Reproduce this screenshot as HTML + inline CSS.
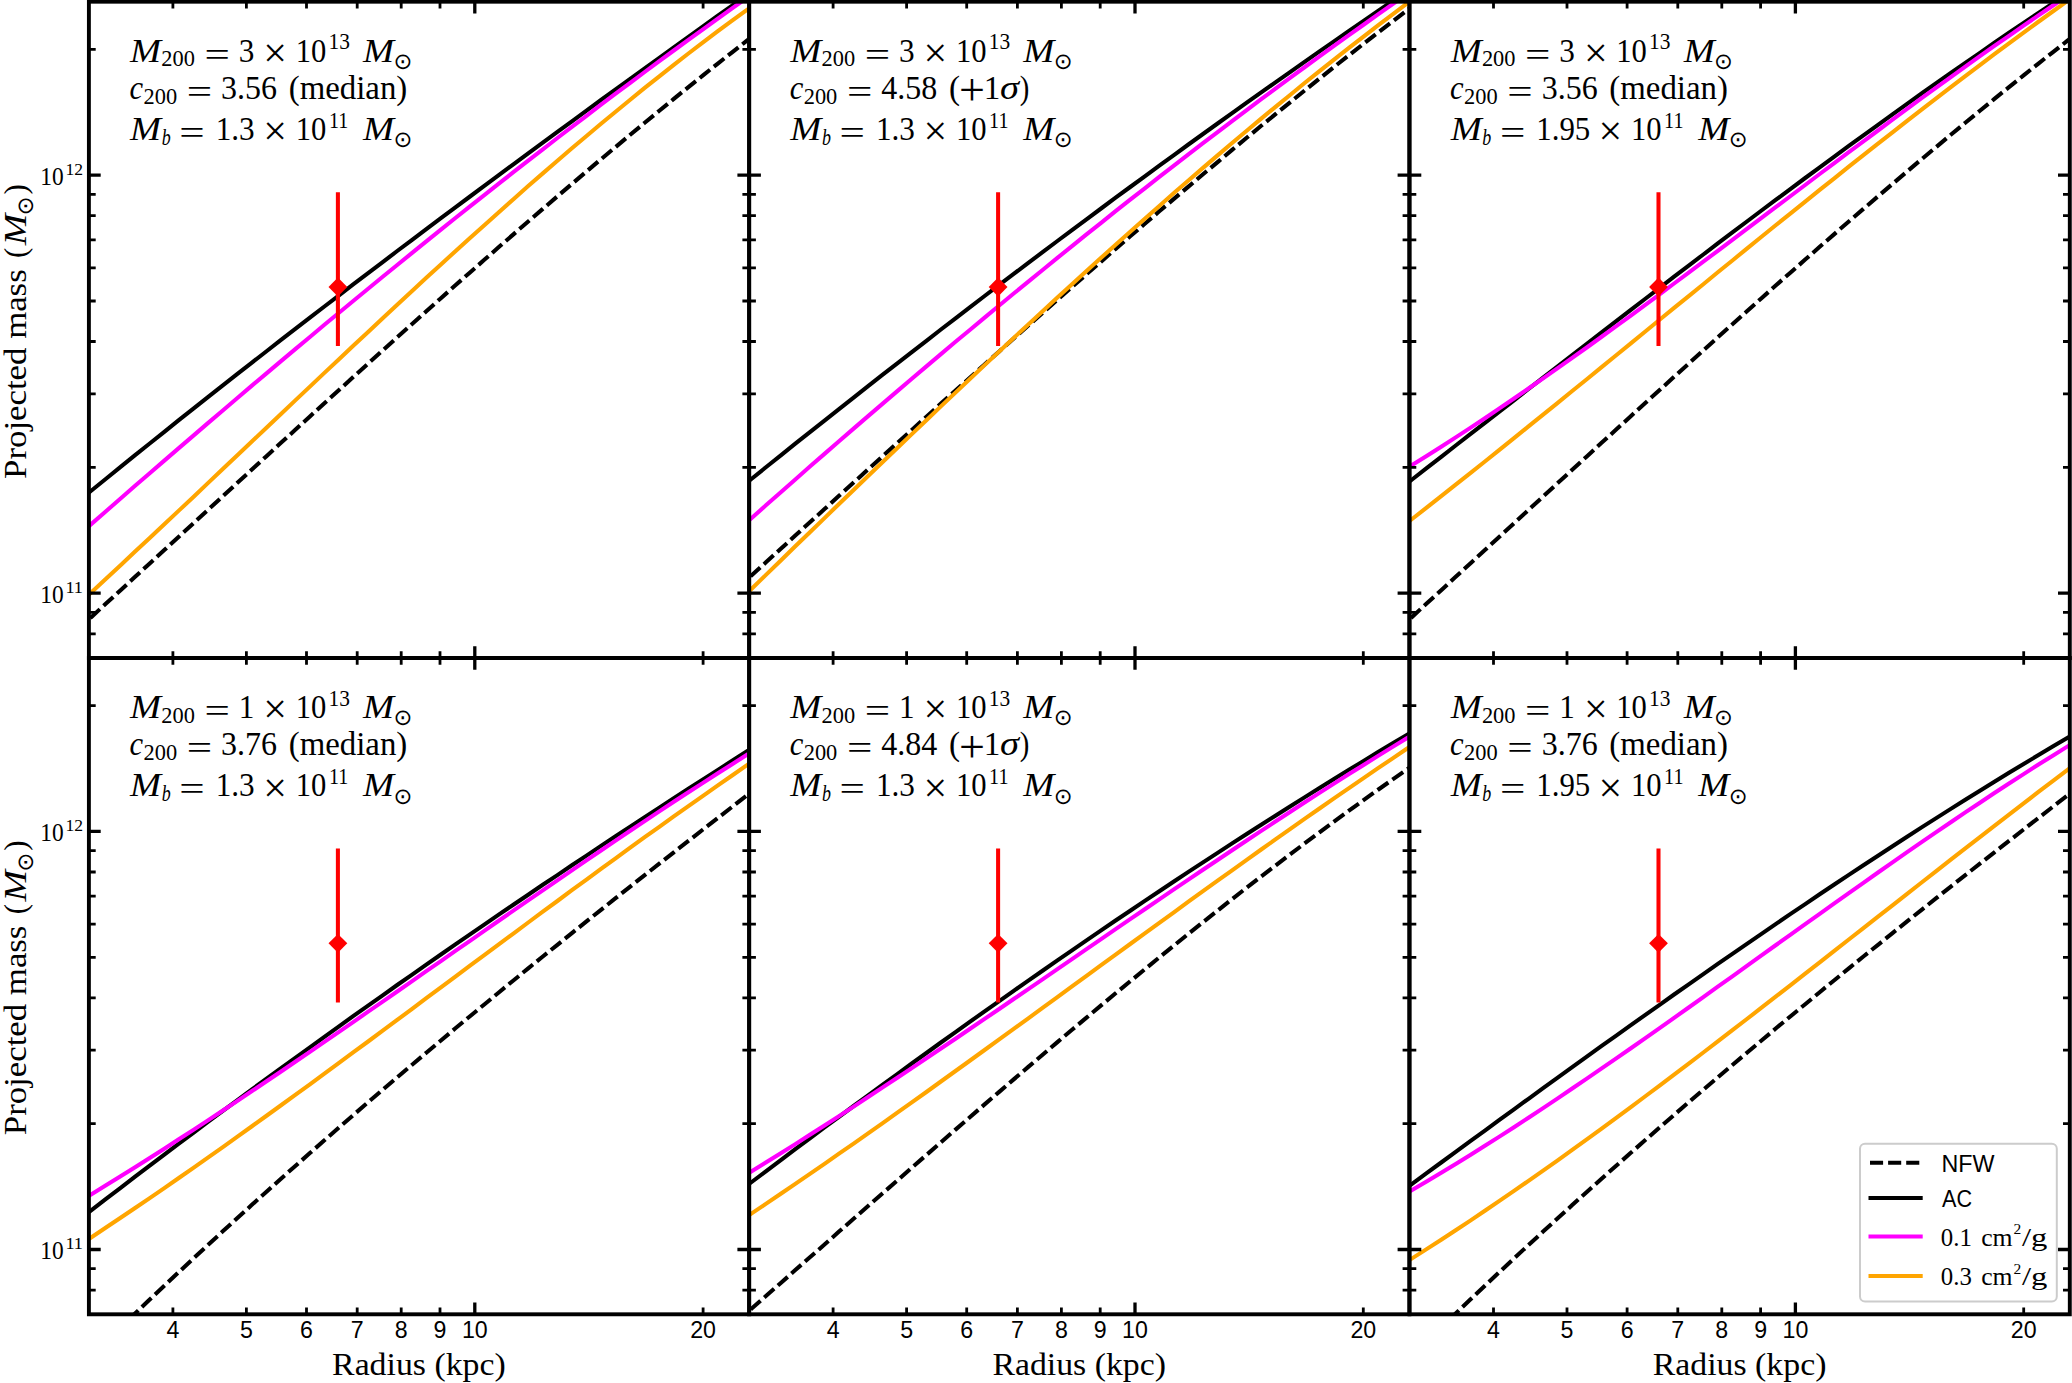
<!DOCTYPE html>
<html lang="en"><head><meta charset="utf-8"><title>Projected mass vs radius</title>
<style>html,body{margin:0;padding:0;background:#fff}svg{display:block}.rm{font-family:"Liberation Serif","DejaVu Serif",serif}.it{font-family:"Liberation Serif","DejaVu Serif",serif;font-style:italic}.ss{font-family:"Liberation Sans","DejaVu Sans",sans-serif}.sy{font-family:"DejaVu Sans","Liberation Sans",sans-serif}</style></head><body>
<svg width="2072" height="1383" viewBox="0 0 2072 1383">
<rect width="2072" height="1383" fill="#fff"/>
<defs>
<clipPath id="cp00"><rect x="88.9" y="1.7" width="660.3" height="656.3"/></clipPath>
<clipPath id="cp01"><rect x="749.1" y="1.7" width="660.3" height="656.3"/></clipPath>
<clipPath id="cp02"><rect x="1409.5" y="1.7" width="660.3" height="656.3"/></clipPath>
<clipPath id="cp10"><rect x="88.9" y="658.0" width="660.3" height="656.3"/></clipPath>
<clipPath id="cp11"><rect x="749.1" y="658.0" width="660.3" height="656.3"/></clipPath>
<clipPath id="cp12"><rect x="1409.5" y="658.0" width="660.3" height="656.3"/></clipPath>
</defs>
<g clip-path="url(#cp00)" fill="none" stroke-width="4.05" stroke-linejoin="round">
<path d="M76.9,630.2 L91.5,616.9 L106.0,603.5 L120.6,590.2 L135.1,576.8 L149.7,563.4 L164.3,550.1 L178.8,536.7 L193.4,523.3 L207.9,509.9 L222.5,496.5 L237.1,483.1 L251.6,469.8 L266.2,456.4 L280.7,443.1 L295.3,429.8 L309.9,416.5 L324.4,403.2 L339.0,390.0 L353.5,376.8 L368.1,363.6 L382.7,350.4 L397.2,337.3 L411.8,324.3 L426.3,311.2 L440.9,298.2 L455.4,285.3 L470.0,272.4 L484.6,259.6 L499.1,246.8 L513.7,234.1 L528.2,221.5 L542.8,208.9 L557.4,196.3 L571.9,183.9 L586.5,171.5 L601.0,159.2 L615.6,147.0 L630.2,134.8 L644.7,122.8 L659.3,110.8 L673.8,98.9 L688.4,87.1 L703.0,75.4 L717.5,63.8 L732.1,52.3 L746.6,40.9 L761.2,29.6" stroke="#000" stroke-dasharray="13.1 5"/>
<path d="M76.9,502.4 L91.5,490.5 L106.0,478.7 L120.6,466.9 L135.1,455.2 L149.7,443.5 L164.3,431.8 L178.8,420.2 L193.4,408.7 L207.9,397.1 L222.5,385.7 L237.1,374.2 L251.6,362.8 L266.2,351.5 L280.7,340.2 L295.3,328.9 L309.9,317.7 L324.4,306.5 L339.0,295.3 L353.5,284.2 L368.1,273.1 L382.7,262.1 L397.2,251.0 L411.8,240.1 L426.3,229.1 L440.9,218.2 L455.4,207.3 L470.0,196.5 L484.6,185.6 L499.1,174.8 L513.7,164.1 L528.2,153.3 L542.8,142.6 L557.4,131.9 L571.9,121.3 L586.5,110.6 L601.0,100.0 L615.6,89.5 L630.2,78.9 L644.7,68.4 L659.3,57.8 L673.8,47.3 L688.4,36.9 L703.0,26.4 L717.5,16.0 L732.1,5.6 L746.6,-4.8 L761.2,-15.2" stroke="#000"/>
<path d="M76.9,536.6 L91.5,523.9 L106.0,511.2 L120.6,498.5 L135.1,485.8 L149.7,473.2 L164.3,460.6 L178.8,448.1 L193.4,435.6 L207.9,423.1 L222.5,410.7 L237.1,398.3 L251.6,385.9 L266.2,373.6 L280.7,361.4 L295.3,349.1 L309.9,337.0 L324.4,324.8 L339.0,312.8 L353.5,300.7 L368.1,288.8 L382.7,276.8 L397.2,265.0 L411.8,253.1 L426.3,241.4 L440.9,229.7 L455.4,218.0 L470.0,206.4 L484.6,194.9 L499.1,183.4 L513.7,171.9 L528.2,160.6 L542.8,149.3 L557.4,138.0 L571.9,126.9 L586.5,115.8 L601.0,104.7 L615.6,93.7 L630.2,82.8 L644.7,72.0 L659.3,61.2 L673.8,50.5 L688.4,39.9 L703.0,29.3 L717.5,18.8 L732.1,8.4 L746.6,-1.9 L761.2,-12.2" stroke="#ff00ff"/>
<path d="M76.9,605.6 L91.5,592.2 L106.0,578.7 L120.6,565.2 L135.1,551.6 L149.7,538.0 L164.3,524.3 L178.8,510.6 L193.4,496.9 L207.9,483.1 L222.5,469.3 L237.1,455.5 L251.6,441.7 L266.2,428.0 L280.7,414.2 L295.3,400.4 L309.9,386.6 L324.4,372.9 L339.0,359.2 L353.5,345.5 L368.1,331.9 L382.7,318.3 L397.2,304.7 L411.8,291.2 L426.3,277.8 L440.9,264.5 L455.4,251.2 L470.0,238.0 L484.6,224.9 L499.1,211.9 L513.7,198.9 L528.2,186.1 L542.8,173.4 L557.4,160.8 L571.9,148.3 L586.5,136.0 L601.0,123.7 L615.6,111.7 L630.2,99.7 L644.7,87.9 L659.3,76.3 L673.8,64.8 L688.4,53.5 L703.0,42.4 L717.5,31.4 L732.1,20.6 L746.6,10.1 L761.2,-0.3" stroke="#ffa500"/>
<path d="M337.9,192.3 V346.1" stroke="#f00"/>
<path d="M337.9,277.6 L347.3,287.0 L337.9,296.4 L328.5,287.0Z" fill="#f00" stroke="none"/>
</g>
<g clip-path="url(#cp01)" fill="none" stroke-width="4.05" stroke-linejoin="round">
<path d="M737.1,588.5 L751.7,575.3 L766.2,562.1 L780.8,548.8 L795.3,535.6 L809.9,522.3 L824.5,509.1 L839.0,495.8 L853.6,482.6 L868.1,469.4 L882.7,456.2 L897.3,443.0 L911.8,429.9 L926.4,416.7 L940.9,403.6 L955.5,390.5 L970.1,377.5 L984.6,364.4 L999.2,351.4 L1013.7,338.5 L1028.3,325.6 L1042.9,312.7 L1057.4,299.8 L1072.0,287.0 L1086.5,274.3 L1101.1,261.6 L1115.6,248.9 L1130.2,236.3 L1144.8,223.8 L1159.3,211.3 L1173.9,198.9 L1188.4,186.6 L1203.0,174.3 L1217.6,162.1 L1232.1,149.9 L1246.7,137.8 L1261.2,125.8 L1275.8,113.9 L1290.4,102.1 L1304.9,90.3 L1319.5,78.6 L1334.0,67.0 L1348.6,55.5 L1363.2,44.1 L1377.7,32.8 L1392.3,21.6 L1406.8,10.5 L1421.4,-0.5" stroke="#000" stroke-dasharray="13.1 5"/>
<path d="M737.1,490.5 L751.7,478.7 L766.2,467.0 L780.8,455.3 L795.3,443.7 L809.9,432.1 L824.5,420.6 L839.0,409.1 L853.6,397.6 L868.1,386.1 L882.7,374.7 L897.3,363.4 L911.8,352.1 L926.4,340.8 L940.9,329.5 L955.5,318.3 L970.1,307.2 L984.6,296.0 L999.2,284.9 L1013.7,273.9 L1028.3,262.9 L1042.9,251.9 L1057.4,241.0 L1072.0,230.1 L1086.5,219.3 L1101.1,208.5 L1115.6,197.7 L1130.2,187.0 L1144.8,176.3 L1159.3,165.7 L1173.9,155.1 L1188.4,144.5 L1203.0,134.0 L1217.6,123.5 L1232.1,113.1 L1246.7,102.7 L1261.2,92.4 L1275.8,82.1 L1290.4,71.8 L1304.9,61.6 L1319.5,51.4 L1334.0,41.3 L1348.6,31.2 L1363.2,21.1 L1377.7,11.1 L1392.3,1.2 L1406.8,-8.7 L1421.4,-18.6" stroke="#000"/>
<path d="M737.1,531.0 L751.7,518.0 L766.2,505.1 L780.8,492.2 L795.3,479.4 L809.9,466.6 L824.5,453.9 L839.0,441.2 L853.6,428.6 L868.1,416.1 L882.7,403.6 L897.3,391.1 L911.8,378.7 L926.4,366.4 L940.9,354.1 L955.5,341.8 L970.1,329.7 L984.6,317.6 L999.2,305.5 L1013.7,293.5 L1028.3,281.6 L1042.9,269.7 L1057.4,257.9 L1072.0,246.1 L1086.5,234.4 L1101.1,222.8 L1115.6,211.2 L1130.2,199.7 L1144.8,188.3 L1159.3,176.9 L1173.9,165.6 L1188.4,154.4 L1203.0,143.2 L1217.6,132.1 L1232.1,121.1 L1246.7,110.1 L1261.2,99.2 L1275.8,88.4 L1290.4,77.7 L1304.9,67.0 L1319.5,56.4 L1334.0,45.8 L1348.6,35.4 L1363.2,25.0 L1377.7,14.7 L1392.3,4.4 L1406.8,-5.7 L1421.4,-15.8" stroke="#ff00ff"/>
<path d="M737.1,602.9 L751.7,588.8 L766.2,574.6 L780.8,560.5 L795.3,546.3 L809.9,532.2 L824.5,518.1 L839.0,504.0 L853.6,490.0 L868.1,476.0 L882.7,462.0 L897.3,448.0 L911.8,434.1 L926.4,420.2 L940.9,406.4 L955.5,392.6 L970.1,378.8 L984.6,365.1 L999.2,351.5 L1013.7,337.9 L1028.3,324.4 L1042.9,310.9 L1057.4,297.5 L1072.0,284.2 L1086.5,271.0 L1101.1,257.8 L1115.6,244.7 L1130.2,231.7 L1144.8,218.7 L1159.3,205.9 L1173.9,193.1 L1188.4,180.5 L1203.0,167.9 L1217.6,155.4 L1232.1,143.0 L1246.7,130.8 L1261.2,118.6 L1275.8,106.6 L1290.4,94.7 L1304.9,82.8 L1319.5,71.1 L1334.0,59.6 L1348.6,48.1 L1363.2,36.8 L1377.7,25.6 L1392.3,14.6 L1406.8,3.6 L1421.4,-7.1" stroke="#ffa500"/>
<path d="M998.1,192.3 V346.1" stroke="#f00"/>
<path d="M998.1,277.6 L1007.5,287.0 L998.1,296.4 L988.7,287.0Z" fill="#f00" stroke="none"/>
</g>
<g clip-path="url(#cp02)" fill="none" stroke-width="4.05" stroke-linejoin="round">
<path d="M1397.5,630.2 L1412.1,616.9 L1426.6,603.5 L1441.2,590.2 L1455.7,576.8 L1470.3,563.4 L1484.9,550.1 L1499.4,536.7 L1514.0,523.3 L1528.5,509.9 L1543.1,496.5 L1557.7,483.1 L1572.2,469.8 L1586.8,456.4 L1601.3,443.1 L1615.9,429.8 L1630.5,416.5 L1645.0,403.2 L1659.6,390.0 L1674.1,376.8 L1688.7,363.6 L1703.3,350.4 L1717.8,337.3 L1732.4,324.3 L1746.9,311.2 L1761.5,298.2 L1776.0,285.3 L1790.6,272.4 L1805.2,259.6 L1819.7,246.8 L1834.3,234.1 L1848.8,221.5 L1863.4,208.9 L1878.0,196.3 L1892.5,183.9 L1907.1,171.5 L1921.6,159.2 L1936.2,147.0 L1950.8,134.8 L1965.3,122.8 L1979.9,110.8 L1994.4,98.9 L2009.0,87.1 L2023.6,75.4 L2038.1,63.8 L2052.7,52.3 L2067.2,40.9 L2081.8,29.6" stroke="#000" stroke-dasharray="13.1 5"/>
<path d="M1397.5,490.8 L1412.1,479.5 L1426.6,468.2 L1441.2,456.8 L1455.7,445.5 L1470.3,434.2 L1484.9,422.9 L1499.4,411.6 L1514.0,400.3 L1528.5,389.0 L1543.1,377.7 L1557.7,366.4 L1572.2,355.1 L1586.8,343.8 L1601.3,332.6 L1615.9,321.4 L1630.5,310.1 L1645.0,299.0 L1659.6,287.8 L1674.1,276.7 L1688.7,265.6 L1703.3,254.5 L1717.8,243.4 L1732.4,232.4 L1746.9,221.5 L1761.5,210.5 L1776.0,199.7 L1790.6,188.8 L1805.2,178.0 L1819.7,167.3 L1834.3,156.6 L1848.8,145.9 L1863.4,135.3 L1878.0,124.8 L1892.5,114.3 L1907.1,103.9 L1921.6,93.5 L1936.2,83.2 L1950.8,73.0 L1965.3,62.8 L1979.9,52.8 L1994.4,42.7 L2009.0,32.8 L2023.6,22.9 L2038.1,13.2 L2052.7,3.5 L2067.2,-6.2 L2081.8,-15.7" stroke="#000"/>
<path d="M1397.5,474.0 L1412.1,465.0 L1426.6,456.0 L1441.2,446.7 L1455.7,437.4 L1470.3,427.9 L1484.9,418.2 L1499.4,408.4 L1514.0,398.5 L1528.5,388.5 L1543.1,378.4 L1557.7,368.2 L1572.2,357.9 L1586.8,347.5 L1601.3,337.0 L1615.9,326.4 L1630.5,315.8 L1645.0,305.1 L1659.6,294.3 L1674.1,283.5 L1688.7,272.6 L1703.3,261.7 L1717.8,250.8 L1732.4,239.9 L1746.9,228.9 L1761.5,217.9 L1776.0,206.9 L1790.6,196.0 L1805.2,185.0 L1819.7,174.0 L1834.3,163.1 L1848.8,152.2 L1863.4,141.3 L1878.0,130.5 L1892.5,119.7 L1907.1,108.9 L1921.6,98.2 L1936.2,87.6 L1950.8,77.1 L1965.3,66.6 L1979.9,56.2 L1994.4,45.9 L2009.0,35.8 L2023.6,25.7 L2038.1,15.7 L2052.7,5.8 L2067.2,-3.9 L2081.8,-13.5" stroke="#ff00ff"/>
<path d="M1397.5,530.3 L1412.1,519.0 L1426.6,507.6 L1441.2,496.1 L1455.7,484.6 L1470.3,473.1 L1484.9,461.5 L1499.4,449.8 L1514.0,438.1 L1528.5,426.4 L1543.1,414.6 L1557.7,402.9 L1572.2,391.0 L1586.8,379.2 L1601.3,367.4 L1615.9,355.5 L1630.5,343.6 L1645.0,331.7 L1659.6,319.8 L1674.1,307.9 L1688.7,296.1 L1703.3,284.2 L1717.8,272.3 L1732.4,260.5 L1746.9,248.6 L1761.5,236.8 L1776.0,225.0 L1790.6,213.3 L1805.2,201.6 L1819.7,189.9 L1834.3,178.3 L1848.8,166.7 L1863.4,155.2 L1878.0,143.7 L1892.5,132.3 L1907.1,120.9 L1921.6,109.6 L1936.2,98.4 L1950.8,87.2 L1965.3,76.1 L1979.9,65.1 L1994.4,54.2 L2009.0,43.4 L2023.6,32.7 L2038.1,22.0 L2052.7,11.5 L2067.2,1.1 L2081.8,-9.3" stroke="#ffa500"/>
<path d="M1658.5,192.3 V346.1" stroke="#f00"/>
<path d="M1658.5,277.6 L1667.9,287.0 L1658.5,296.4 L1649.1,287.0Z" fill="#f00" stroke="none"/>
</g>
<g clip-path="url(#cp10)" fill="none" stroke-width="4.05" stroke-linejoin="round">
<path d="M76.9,1369.9 L91.5,1355.6 L106.0,1341.5 L120.6,1327.4 L135.1,1313.4 L149.7,1299.5 L164.3,1285.8 L178.8,1272.1 L193.4,1258.5 L207.9,1245.0 L222.5,1231.6 L237.1,1218.3 L251.6,1205.1 L266.2,1192.0 L280.7,1178.9 L295.3,1166.0 L309.9,1153.1 L324.4,1140.3 L339.0,1127.5 L353.5,1114.9 L368.1,1102.3 L382.7,1089.8 L397.2,1077.4 L411.8,1065.0 L426.3,1052.7 L440.9,1040.5 L455.4,1028.3 L470.0,1016.2 L484.6,1004.2 L499.1,992.2 L513.7,980.2 L528.2,968.4 L542.8,956.5 L557.4,944.8 L571.9,933.1 L586.5,921.4 L601.0,909.8 L615.6,898.2 L630.2,886.6 L644.7,875.1 L659.3,863.7 L673.8,852.3 L688.4,840.9 L703.0,829.5 L717.5,818.2 L732.1,806.9 L746.6,795.7 L761.2,784.4" stroke="#000" stroke-dasharray="13.1 5"/>
<path d="M76.9,1221.3 L91.5,1210.1 L106.0,1198.9 L120.6,1187.8 L135.1,1176.7 L149.7,1165.6 L164.3,1154.6 L178.8,1143.7 L193.4,1132.8 L207.9,1121.9 L222.5,1111.1 L237.1,1100.4 L251.6,1089.6 L266.2,1079.0 L280.7,1068.4 L295.3,1057.8 L309.9,1047.3 L324.4,1036.8 L339.0,1026.3 L353.5,1015.9 L368.1,1005.6 L382.7,995.3 L397.2,985.0 L411.8,974.8 L426.3,964.6 L440.9,954.5 L455.4,944.4 L470.0,934.4 L484.6,924.4 L499.1,914.4 L513.7,904.5 L528.2,894.7 L542.8,884.8 L557.4,875.1 L571.9,865.3 L586.5,855.6 L601.0,845.9 L615.6,836.3 L630.2,826.7 L644.7,817.2 L659.3,807.7 L673.8,798.2 L688.4,788.8 L703.0,779.4 L717.5,770.1 L732.1,760.8 L746.6,751.5 L761.2,742.3" stroke="#000"/>
<path d="M76.9,1203.0 L91.5,1194.2 L106.0,1185.3 L120.6,1176.3 L135.1,1167.2 L149.7,1158.0 L164.3,1148.7 L178.8,1139.3 L193.4,1129.9 L207.9,1120.4 L222.5,1110.8 L237.1,1101.1 L251.6,1091.3 L266.2,1081.5 L280.7,1071.7 L295.3,1061.8 L309.9,1051.9 L324.4,1041.9 L339.0,1031.9 L353.5,1021.8 L368.1,1011.7 L382.7,1001.6 L397.2,991.5 L411.8,981.4 L426.3,971.2 L440.9,961.1 L455.4,950.9 L470.0,940.8 L484.6,930.7 L499.1,920.5 L513.7,910.4 L528.2,900.4 L542.8,890.3 L557.4,880.3 L571.9,870.3 L586.5,860.4 L601.0,850.5 L615.6,840.6 L630.2,830.8 L644.7,821.1 L659.3,811.4 L673.8,801.8 L688.4,792.3 L703.0,782.9 L717.5,773.5 L732.1,764.2 L746.6,755.0 L761.2,745.9" stroke="#ff00ff"/>
<path d="M76.9,1246.7 L91.5,1237.2 L106.0,1227.5 L120.6,1217.8 L135.1,1208.0 L149.7,1198.1 L164.3,1188.1 L178.8,1178.0 L193.4,1167.8 L207.9,1157.6 L222.5,1147.3 L237.1,1136.9 L251.6,1126.5 L266.2,1116.0 L280.7,1105.5 L295.3,1094.9 L309.9,1084.3 L324.4,1073.6 L339.0,1062.9 L353.5,1052.2 L368.1,1041.5 L382.7,1030.7 L397.2,1019.9 L411.8,1009.1 L426.3,998.2 L440.9,987.4 L455.4,976.6 L470.0,965.7 L484.6,954.9 L499.1,944.1 L513.7,933.3 L528.2,922.5 L542.8,911.7 L557.4,901.0 L571.9,890.2 L586.5,879.6 L601.0,868.9 L615.6,858.3 L630.2,847.7 L644.7,837.2 L659.3,826.8 L673.8,816.4 L688.4,806.1 L703.0,795.8 L717.5,785.6 L732.1,775.5 L746.6,765.4 L761.2,755.4" stroke="#ffa500"/>
<path d="M337.9,848.6 V1002.4" stroke="#f00"/>
<path d="M337.9,933.9 L347.3,943.3 L337.9,952.7 L328.5,943.3Z" fill="#f00" stroke="none"/>
</g>
<g clip-path="url(#cp11)" fill="none" stroke-width="4.05" stroke-linejoin="round">
<path d="M737.1,1321.4 L751.7,1308.6 L766.2,1295.8 L780.8,1283.0 L795.3,1270.1 L809.9,1257.3 L824.5,1244.5 L839.0,1231.6 L853.6,1218.8 L868.1,1206.0 L882.7,1193.2 L897.3,1180.5 L911.8,1167.7 L926.4,1155.0 L940.9,1142.3 L955.5,1129.6 L970.1,1117.0 L984.6,1104.4 L999.2,1091.9 L1013.7,1079.4 L1028.3,1066.9 L1042.9,1054.5 L1057.4,1042.1 L1072.0,1029.8 L1086.5,1017.6 L1101.1,1005.4 L1115.6,993.3 L1130.2,981.3 L1144.8,969.3 L1159.3,957.4 L1173.9,945.6 L1188.4,933.8 L1203.0,922.2 L1217.6,910.6 L1232.1,899.1 L1246.7,887.7 L1261.2,876.5 L1275.8,865.3 L1290.4,854.2 L1304.9,843.2 L1319.5,832.3 L1334.0,821.6 L1348.6,810.9 L1363.2,800.4 L1377.7,790.0 L1392.3,779.7 L1406.8,769.6 L1421.4,759.5" stroke="#000" stroke-dasharray="13.1 5"/>
<path d="M737.1,1193.1 L751.7,1182.0 L766.2,1171.1 L780.8,1160.1 L795.3,1149.2 L809.9,1138.4 L824.5,1127.5 L839.0,1116.8 L853.6,1106.0 L868.1,1095.3 L882.7,1084.7 L897.3,1074.1 L911.8,1063.5 L926.4,1053.0 L940.9,1042.5 L955.5,1032.1 L970.1,1021.7 L984.6,1011.3 L999.2,1001.1 L1013.7,990.8 L1028.3,980.6 L1042.9,970.5 L1057.4,960.4 L1072.0,950.3 L1086.5,940.4 L1101.1,930.4 L1115.6,920.5 L1130.2,910.7 L1144.8,900.9 L1159.3,891.2 L1173.9,881.5 L1188.4,871.9 L1203.0,862.4 L1217.6,852.9 L1232.1,843.4 L1246.7,834.0 L1261.2,824.7 L1275.8,815.5 L1290.4,806.3 L1304.9,797.1 L1319.5,788.0 L1334.0,779.0 L1348.6,770.1 L1363.2,761.2 L1377.7,752.3 L1392.3,743.6 L1406.8,734.9 L1421.4,726.3" stroke="#000"/>
<path d="M737.1,1180.2 L751.7,1171.3 L766.2,1162.3 L780.8,1153.2 L795.3,1144.1 L809.9,1134.8 L824.5,1125.5 L839.0,1116.1 L853.6,1106.6 L868.1,1097.0 L882.7,1087.4 L897.3,1077.8 L911.8,1068.1 L926.4,1058.3 L940.9,1048.5 L955.5,1038.7 L970.1,1028.8 L984.6,1018.9 L999.2,1009.0 L1013.7,999.0 L1028.3,989.1 L1042.9,979.1 L1057.4,969.1 L1072.0,959.1 L1086.5,949.1 L1101.1,939.1 L1115.6,929.2 L1130.2,919.2 L1144.8,909.3 L1159.3,899.3 L1173.9,889.4 L1188.4,879.6 L1203.0,869.7 L1217.6,860.0 L1232.1,850.2 L1246.7,840.5 L1261.2,830.9 L1275.8,821.3 L1290.4,811.7 L1304.9,802.3 L1319.5,792.9 L1334.0,783.6 L1348.6,774.3 L1363.2,765.2 L1377.7,756.1 L1392.3,747.1 L1406.8,738.2 L1421.4,729.4" stroke="#ff00ff"/>
<path d="M737.1,1223.1 L751.7,1213.4 L766.2,1203.6 L780.8,1193.8 L795.3,1183.9 L809.9,1173.9 L824.5,1163.8 L839.0,1153.7 L853.6,1143.6 L868.1,1133.3 L882.7,1123.1 L897.3,1112.7 L911.8,1102.4 L926.4,1092.0 L940.9,1081.5 L955.5,1071.0 L970.1,1060.5 L984.6,1050.0 L999.2,1039.4 L1013.7,1028.9 L1028.3,1018.3 L1042.9,1007.7 L1057.4,997.1 L1072.0,986.4 L1086.5,975.8 L1101.1,965.2 L1115.6,954.6 L1130.2,944.0 L1144.8,933.4 L1159.3,922.8 L1173.9,912.3 L1188.4,901.7 L1203.0,891.2 L1217.6,880.7 L1232.1,870.3 L1246.7,859.9 L1261.2,849.5 L1275.8,839.2 L1290.4,828.9 L1304.9,818.7 L1319.5,808.5 L1334.0,798.4 L1348.6,788.3 L1363.2,778.3 L1377.7,768.4 L1392.3,758.6 L1406.8,748.8 L1421.4,739.1" stroke="#ffa500"/>
<path d="M998.1,848.6 V1002.4" stroke="#f00"/>
<path d="M998.1,933.9 L1007.5,943.3 L998.1,952.7 L988.7,943.3Z" fill="#f00" stroke="none"/>
</g>
<g clip-path="url(#cp12)" fill="none" stroke-width="4.05" stroke-linejoin="round">
<path d="M1397.5,1369.9 L1412.1,1355.6 L1426.6,1341.5 L1441.2,1327.4 L1455.7,1313.4 L1470.3,1299.5 L1484.9,1285.8 L1499.4,1272.1 L1514.0,1258.5 L1528.5,1245.0 L1543.1,1231.6 L1557.7,1218.3 L1572.2,1205.1 L1586.8,1192.0 L1601.3,1178.9 L1615.9,1166.0 L1630.5,1153.1 L1645.0,1140.3 L1659.6,1127.5 L1674.1,1114.9 L1688.7,1102.3 L1703.3,1089.8 L1717.8,1077.4 L1732.4,1065.0 L1746.9,1052.7 L1761.5,1040.5 L1776.0,1028.3 L1790.6,1016.2 L1805.2,1004.2 L1819.7,992.2 L1834.3,980.2 L1848.8,968.4 L1863.4,956.5 L1878.0,944.8 L1892.5,933.1 L1907.1,921.4 L1921.6,909.8 L1936.2,898.2 L1950.8,886.6 L1965.3,875.1 L1979.9,863.7 L1994.4,852.3 L2009.0,840.9 L2023.6,829.5 L2038.1,818.2 L2052.7,806.9 L2067.2,795.7 L2081.8,784.4" stroke="#000" stroke-dasharray="13.1 5"/>
<path d="M1397.5,1194.6 L1412.1,1183.9 L1426.6,1173.2 L1441.2,1162.5 L1455.7,1151.9 L1470.3,1141.2 L1484.9,1130.6 L1499.4,1119.9 L1514.0,1109.3 L1528.5,1098.8 L1543.1,1088.2 L1557.7,1077.7 L1572.2,1067.2 L1586.8,1056.7 L1601.3,1046.2 L1615.9,1035.8 L1630.5,1025.4 L1645.0,1015.1 L1659.6,1004.8 L1674.1,994.5 L1688.7,984.3 L1703.3,974.1 L1717.8,963.9 L1732.4,953.8 L1746.9,943.8 L1761.5,933.8 L1776.0,923.8 L1790.6,913.9 L1805.2,904.1 L1819.7,894.3 L1834.3,884.5 L1848.8,874.9 L1863.4,865.2 L1878.0,855.7 L1892.5,846.2 L1907.1,836.8 L1921.6,827.4 L1936.2,818.1 L1950.8,808.9 L1965.3,799.8 L1979.9,790.7 L1994.4,781.8 L2009.0,772.8 L2023.6,764.0 L2038.1,755.3 L2052.7,746.6 L2067.2,738.0 L2081.8,729.6" stroke="#000"/>
<path d="M1397.5,1198.5 L1412.1,1190.1 L1426.6,1181.5 L1441.2,1172.8 L1455.7,1164.0 L1470.3,1155.0 L1484.9,1145.8 L1499.4,1136.6 L1514.0,1127.2 L1528.5,1117.7 L1543.1,1108.1 L1557.7,1098.4 L1572.2,1088.5 L1586.8,1078.6 L1601.3,1068.7 L1615.9,1058.6 L1630.5,1048.5 L1645.0,1038.3 L1659.6,1028.1 L1674.1,1017.8 L1688.7,1007.5 L1703.3,997.1 L1717.8,986.7 L1732.4,976.3 L1746.9,965.9 L1761.5,955.4 L1776.0,945.0 L1790.6,934.6 L1805.2,924.2 L1819.7,913.8 L1834.3,903.4 L1848.8,893.1 L1863.4,882.8 L1878.0,872.5 L1892.5,862.3 L1907.1,852.2 L1921.6,842.1 L1936.2,832.1 L1950.8,822.2 L1965.3,812.4 L1979.9,802.7 L1994.4,793.0 L2009.0,783.5 L2023.6,774.1 L2038.1,764.8 L2052.7,755.7 L2067.2,746.6 L2081.8,737.7" stroke="#ff00ff"/>
<path d="M1397.5,1267.5 L1412.1,1258.4 L1426.6,1249.1 L1441.2,1239.7 L1455.7,1230.2 L1470.3,1220.6 L1484.9,1210.8 L1499.4,1200.9 L1514.0,1190.9 L1528.5,1180.8 L1543.1,1170.6 L1557.7,1160.3 L1572.2,1149.9 L1586.8,1139.4 L1601.3,1128.8 L1615.9,1118.1 L1630.5,1107.3 L1645.0,1096.5 L1659.6,1085.6 L1674.1,1074.6 L1688.7,1063.6 L1703.3,1052.5 L1717.8,1041.4 L1732.4,1030.2 L1746.9,1019.0 L1761.5,1007.7 L1776.0,996.4 L1790.6,985.1 L1805.2,973.7 L1819.7,962.3 L1834.3,950.9 L1848.8,939.5 L1863.4,928.1 L1878.0,916.7 L1892.5,905.3 L1907.1,893.9 L1921.6,882.5 L1936.2,871.1 L1950.8,859.7 L1965.3,848.4 L1979.9,837.1 L1994.4,825.8 L2009.0,814.6 L2023.6,803.4 L2038.1,792.2 L2052.7,781.1 L2067.2,770.1 L2081.8,759.1" stroke="#ffa500"/>
<path d="M1658.5,848.6 V1002.4" stroke="#f00"/>
<path d="M1658.5,933.9 L1667.9,943.3 L1658.5,952.7 L1649.1,943.3Z" fill="#f00" stroke="none"/>
</g>
<path d="M474.8,658.0v-11.8M474.8,1.7v11.8M88.9,593.2h11.8M749.2,593.2h-11.8M88.9,175.1h11.8M749.2,175.1h-11.8M1135.0,658.0v-11.8M1135.0,1.7v11.8M749.1,593.2h11.8M1409.4,593.2h-11.8M749.1,175.1h11.8M1409.4,175.1h-11.8M1795.4,658.0v-11.8M1795.4,1.7v11.8M1409.5,593.2h11.8M2069.8,593.2h-11.8M1409.5,175.1h11.8M2069.8,175.1h-11.8M474.8,1314.3v-11.8M474.8,658.0v11.8M88.9,1249.5h11.8M749.2,1249.5h-11.8M88.9,831.4h11.8M749.2,831.4h-11.8M1135.0,1314.3v-11.8M1135.0,658.0v11.8M749.1,1249.5h11.8M1409.4,1249.5h-11.8M749.1,831.4h11.8M1409.4,831.4h-11.8M1795.4,1314.3v-11.8M1795.4,658.0v11.8M1409.5,1249.5h11.8M2069.8,1249.5h-11.8M1409.5,831.4h11.8M2069.8,831.4h-11.8" stroke="#000" stroke-width="3.3" fill="none"/>
<path d="M172.9,658.0v-6.8M172.9,1.7v6.8M246.4,658.0v-6.8M246.4,1.7v6.8M306.5,658.0v-6.8M306.5,1.7v6.8M357.2,658.0v-6.8M357.2,1.7v6.8M401.2,658.0v-6.8M401.2,1.7v6.8M440.0,658.0v-6.8M440.0,1.7v6.8M703.1,658.0v-6.8M703.1,1.7v6.8M88.9,633.8h6.8M749.2,633.8h-6.8M88.9,612.4h6.8M749.2,612.4h-6.8M88.9,467.4h6.8M749.2,467.4h-6.8M88.9,393.8h6.8M749.2,393.8h-6.8M88.9,341.5h6.8M749.2,341.5h-6.8M88.9,301.0h6.8M749.2,301.0h-6.8M88.9,267.9h6.8M749.2,267.9h-6.8M88.9,239.9h6.8M749.2,239.9h-6.8M88.9,215.7h6.8M749.2,215.7h-6.8M88.9,194.3h6.8M749.2,194.3h-6.8M88.9,49.3h6.8M749.2,49.3h-6.8M833.1,658.0v-6.8M833.1,1.7v6.8M906.6,658.0v-6.8M906.6,1.7v6.8M966.7,658.0v-6.8M966.7,1.7v6.8M1017.4,658.0v-6.8M1017.4,1.7v6.8M1061.4,658.0v-6.8M1061.4,1.7v6.8M1100.2,658.0v-6.8M1100.2,1.7v6.8M1363.3,658.0v-6.8M1363.3,1.7v6.8M749.1,633.8h6.8M1409.4,633.8h-6.8M749.1,612.4h6.8M1409.4,612.4h-6.8M749.1,467.4h6.8M1409.4,467.4h-6.8M749.1,393.8h6.8M1409.4,393.8h-6.8M749.1,341.5h6.8M1409.4,341.5h-6.8M749.1,301.0h6.8M1409.4,301.0h-6.8M749.1,267.9h6.8M1409.4,267.9h-6.8M749.1,239.9h6.8M1409.4,239.9h-6.8M749.1,215.7h6.8M1409.4,215.7h-6.8M749.1,194.3h6.8M1409.4,194.3h-6.8M749.1,49.3h6.8M1409.4,49.3h-6.8M1493.5,658.0v-6.8M1493.5,1.7v6.8M1567.0,658.0v-6.8M1567.0,1.7v6.8M1627.1,658.0v-6.8M1627.1,1.7v6.8M1677.8,658.0v-6.8M1677.8,1.7v6.8M1721.8,658.0v-6.8M1721.8,1.7v6.8M1760.6,658.0v-6.8M1760.6,1.7v6.8M2023.7,658.0v-6.8M2023.7,1.7v6.8M1409.5,633.8h6.8M2069.8,633.8h-6.8M1409.5,612.4h6.8M2069.8,612.4h-6.8M1409.5,467.4h6.8M2069.8,467.4h-6.8M1409.5,393.8h6.8M2069.8,393.8h-6.8M1409.5,341.5h6.8M2069.8,341.5h-6.8M1409.5,301.0h6.8M2069.8,301.0h-6.8M1409.5,267.9h6.8M2069.8,267.9h-6.8M1409.5,239.9h6.8M2069.8,239.9h-6.8M1409.5,215.7h6.8M2069.8,215.7h-6.8M1409.5,194.3h6.8M2069.8,194.3h-6.8M1409.5,49.3h6.8M2069.8,49.3h-6.8M172.9,1314.3v-6.8M172.9,658.0v6.8M246.4,1314.3v-6.8M246.4,658.0v6.8M306.5,1314.3v-6.8M306.5,658.0v6.8M357.2,1314.3v-6.8M357.2,658.0v6.8M401.2,1314.3v-6.8M401.2,658.0v6.8M440.0,1314.3v-6.8M440.0,658.0v6.8M703.1,1314.3v-6.8M703.1,658.0v6.8M88.9,1290.1h6.8M749.2,1290.1h-6.8M88.9,1268.7h6.8M749.2,1268.7h-6.8M88.9,1123.7h6.8M749.2,1123.7h-6.8M88.9,1050.1h6.8M749.2,1050.1h-6.8M88.9,997.8h6.8M749.2,997.8h-6.8M88.9,957.3h6.8M749.2,957.3h-6.8M88.9,924.2h6.8M749.2,924.2h-6.8M88.9,896.2h6.8M749.2,896.2h-6.8M88.9,872.0h6.8M749.2,872.0h-6.8M88.9,850.6h6.8M749.2,850.6h-6.8M88.9,705.6h6.8M749.2,705.6h-6.8M833.1,1314.3v-6.8M833.1,658.0v6.8M906.6,1314.3v-6.8M906.6,658.0v6.8M966.7,1314.3v-6.8M966.7,658.0v6.8M1017.4,1314.3v-6.8M1017.4,658.0v6.8M1061.4,1314.3v-6.8M1061.4,658.0v6.8M1100.2,1314.3v-6.8M1100.2,658.0v6.8M1363.3,1314.3v-6.8M1363.3,658.0v6.8M749.1,1290.1h6.8M1409.4,1290.1h-6.8M749.1,1268.7h6.8M1409.4,1268.7h-6.8M749.1,1123.7h6.8M1409.4,1123.7h-6.8M749.1,1050.1h6.8M1409.4,1050.1h-6.8M749.1,997.8h6.8M1409.4,997.8h-6.8M749.1,957.3h6.8M1409.4,957.3h-6.8M749.1,924.2h6.8M1409.4,924.2h-6.8M749.1,896.2h6.8M1409.4,896.2h-6.8M749.1,872.0h6.8M1409.4,872.0h-6.8M749.1,850.6h6.8M1409.4,850.6h-6.8M749.1,705.6h6.8M1409.4,705.6h-6.8M1493.5,1314.3v-6.8M1493.5,658.0v6.8M1567.0,1314.3v-6.8M1567.0,658.0v6.8M1627.1,1314.3v-6.8M1627.1,658.0v6.8M1677.8,1314.3v-6.8M1677.8,658.0v6.8M1721.8,1314.3v-6.8M1721.8,658.0v6.8M1760.6,1314.3v-6.8M1760.6,658.0v6.8M2023.7,1314.3v-6.8M2023.7,658.0v6.8M1409.5,1290.1h6.8M2069.8,1290.1h-6.8M1409.5,1268.7h6.8M2069.8,1268.7h-6.8M1409.5,1123.7h6.8M2069.8,1123.7h-6.8M1409.5,1050.1h6.8M2069.8,1050.1h-6.8M1409.5,997.8h6.8M2069.8,997.8h-6.8M1409.5,957.3h6.8M2069.8,957.3h-6.8M1409.5,924.2h6.8M2069.8,924.2h-6.8M1409.5,896.2h6.8M2069.8,896.2h-6.8M1409.5,872.0h6.8M2069.8,872.0h-6.8M1409.5,850.6h6.8M2069.8,850.6h-6.8M1409.5,705.6h6.8M2069.8,705.6h-6.8" stroke="#000" stroke-width="2.8" fill="none"/>
<rect x="88.9" y="1.7" width="660.3" height="656.3" fill="none" stroke="#000" stroke-width="3.9"/>
<rect x="749.1" y="1.7" width="660.3" height="656.3" fill="none" stroke="#000" stroke-width="3.9"/>
<rect x="1409.5" y="1.7" width="660.3" height="656.3" fill="none" stroke="#000" stroke-width="3.9"/>
<rect x="88.9" y="658.0" width="660.3" height="656.3" fill="none" stroke="#000" stroke-width="3.9"/>
<rect x="749.1" y="658.0" width="660.3" height="656.3" fill="none" stroke="#000" stroke-width="3.9"/>
<rect x="1409.5" y="658.0" width="660.3" height="656.3" fill="none" stroke="#000" stroke-width="3.9"/>
<g class="ss" font-size="23.2" text-anchor="middle" fill="#000">
<text x="172.9" y="1337.6">4</text>
<text x="246.4" y="1337.6">5</text>
<text x="306.5" y="1337.6">6</text>
<text x="357.2" y="1337.6">7</text>
<text x="401.2" y="1337.6">8</text>
<text x="440.0" y="1337.6">9</text>
<text x="474.8" y="1337.6">10</text>
<text x="703.1" y="1337.6">20</text>
<text x="833.1" y="1337.6">4</text>
<text x="906.6" y="1337.6">5</text>
<text x="966.7" y="1337.6">6</text>
<text x="1017.4" y="1337.6">7</text>
<text x="1061.4" y="1337.6">8</text>
<text x="1100.2" y="1337.6">9</text>
<text x="1135.0" y="1337.6">10</text>
<text x="1363.3" y="1337.6">20</text>
<text x="1493.5" y="1337.6">4</text>
<text x="1567.0" y="1337.6">5</text>
<text x="1627.1" y="1337.6">6</text>
<text x="1677.8" y="1337.6">7</text>
<text x="1721.8" y="1337.6">8</text>
<text x="1760.6" y="1337.6">9</text>
<text x="1795.4" y="1337.6">10</text>
<text x="2023.7" y="1337.6">20</text>
</g>
<g class="rm" fill="#000">
<text x="40.2" y="602.8" font-size="25" textLength="23.4" lengthAdjust="spacingAndGlyphs">10</text>
<text x="65.4" y="592.6" font-size="17.5" textLength="17.6" lengthAdjust="spacingAndGlyphs">11</text>
<text x="40.2" y="184.7" font-size="25" textLength="23.4" lengthAdjust="spacingAndGlyphs">10</text>
<text x="65.4" y="174.5" font-size="17.5" textLength="17.6" lengthAdjust="spacingAndGlyphs">12</text>
<text x="40.2" y="1259.1" font-size="25" textLength="23.4" lengthAdjust="spacingAndGlyphs">10</text>
<text x="65.4" y="1248.9" font-size="17.5" textLength="17.6" lengthAdjust="spacingAndGlyphs">11</text>
<text x="40.2" y="841.0" font-size="25" textLength="23.4" lengthAdjust="spacingAndGlyphs">10</text>
<text x="65.4" y="830.8" font-size="17.5" textLength="17.6" lengthAdjust="spacingAndGlyphs">12</text>
</g>
<g class="rm" font-size="31" fill="#000">
<text x="332.1" y="1374.8" textLength="173.6" lengthAdjust="spacingAndGlyphs">Radius (kpc)</text>
<text x="992.4" y="1374.8" textLength="173.6" lengthAdjust="spacingAndGlyphs">Radius (kpc)</text>
<text x="1652.8" y="1374.8" textLength="173.6" lengthAdjust="spacingAndGlyphs">Radius (kpc)</text>
<g transform="translate(25.7,478.9) rotate(-90)"><text x="0" y="0" textLength="209.6" lengthAdjust="spacingAndGlyphs">Projected mass</text><text x="221" y="0">(</text><text class="it" x="233.6" y="0" textLength="31.4" lengthAdjust="spacingAndGlyphs">M</text><text class="sy" x="263.6" y="7.4" font-size="22.5">⊙</text><text x="284.4" y="0">)</text></g>
<g transform="translate(25.7,1135.2) rotate(-90)"><text x="0" y="0" textLength="209.6" lengthAdjust="spacingAndGlyphs">Projected mass</text><text x="221" y="0">(</text><text class="it" x="233.6" y="0" textLength="31.4" lengthAdjust="spacingAndGlyphs">M</text><text class="sy" x="263.6" y="7.4" font-size="22.5">⊙</text><text x="284.4" y="0">)</text></g>
</g>
<g fill="#000">
<text class="it" x="130.1" y="61.6" font-size="33.2" textLength="31.0" lengthAdjust="spacingAndGlyphs">M</text><text class="rm" x="161.3" y="66.4" font-size="22.5" textLength="33.6" lengthAdjust="spacingAndGlyphs">200</text><text class="rm" x="204.5" y="65.5" font-size="33.2" textLength="25.4" lengthAdjust="spacingAndGlyphs">=</text><text class="rm" x="238.7" y="61.6" font-size="33.2" textLength="15.6" lengthAdjust="spacingAndGlyphs">3</text><text class="rm" x="263.3" y="67.0" font-size="42">×</text><text class="rm" x="295.7" y="61.6" font-size="33.2" textLength="30.6" lengthAdjust="spacingAndGlyphs">10</text><text class="rm" x="328.5" y="49.4" font-size="22.5" textLength="21.4" lengthAdjust="spacingAndGlyphs">13</text><text class="it" x="363.1" y="61.6" font-size="33.2" textLength="31.0" lengthAdjust="spacingAndGlyphs">M</text><text class="sy" x="393.5" y="69.1" font-size="22.5">⊙</text>
<text class="it" x="129.5" y="99.0" font-size="33.2" textLength="13.6" lengthAdjust="spacingAndGlyphs">c</text><text class="rm" x="143.5" y="103.8" font-size="22.5" textLength="33.6" lengthAdjust="spacingAndGlyphs">200</text><text class="rm" x="186.7" y="102.9" font-size="33.2" textLength="25.4" lengthAdjust="spacingAndGlyphs">=</text><text class="rm" x="221.1" y="99.0" font-size="33.2" textLength="56.0" lengthAdjust="spacingAndGlyphs">3.56</text><text class="rm" x="288.7" y="99.0" font-size="33.2" textLength="118.6" lengthAdjust="spacingAndGlyphs">(median)</text>
<text class="it" x="130.1" y="139.9" font-size="33.2" textLength="31.0" lengthAdjust="spacingAndGlyphs">M</text><text class="it" x="161.7" y="144.5" font-size="22.5" textLength="9.0" lengthAdjust="spacingAndGlyphs">b</text><text class="rm" x="179.3" y="143.8" font-size="33.2" textLength="25.4" lengthAdjust="spacingAndGlyphs">=</text><text class="rm" x="215.7" y="139.9" font-size="33.2" textLength="39.0" lengthAdjust="spacingAndGlyphs">1.3</text><text class="rm" x="263.3" y="145.3" font-size="42">×</text><text class="rm" x="295.7" y="139.9" font-size="33.2" textLength="30.6" lengthAdjust="spacingAndGlyphs">10</text><text class="rm" x="328.9" y="127.7" font-size="22.5" textLength="19.4" lengthAdjust="spacingAndGlyphs">11</text><text class="it" x="363.1" y="139.9" font-size="33.2" textLength="31.0" lengthAdjust="spacingAndGlyphs">M</text><text class="sy" x="393.5" y="147.4" font-size="22.5">⊙</text>
<text class="it" x="790.3" y="61.6" font-size="33.2" textLength="31.0" lengthAdjust="spacingAndGlyphs">M</text><text class="rm" x="821.5" y="66.4" font-size="22.5" textLength="33.6" lengthAdjust="spacingAndGlyphs">200</text><text class="rm" x="864.7" y="65.5" font-size="33.2" textLength="25.4" lengthAdjust="spacingAndGlyphs">=</text><text class="rm" x="898.9" y="61.6" font-size="33.2" textLength="15.6" lengthAdjust="spacingAndGlyphs">3</text><text class="rm" x="923.5" y="67.0" font-size="42">×</text><text class="rm" x="955.9" y="61.6" font-size="33.2" textLength="30.6" lengthAdjust="spacingAndGlyphs">10</text><text class="rm" x="988.7" y="49.4" font-size="22.5" textLength="21.4" lengthAdjust="spacingAndGlyphs">13</text><text class="it" x="1023.3" y="61.6" font-size="33.2" textLength="31.0" lengthAdjust="spacingAndGlyphs">M</text><text class="sy" x="1053.7" y="69.1" font-size="22.5">⊙</text>
<text class="it" x="789.7" y="99.0" font-size="33.2" textLength="13.6" lengthAdjust="spacingAndGlyphs">c</text><text class="rm" x="803.7" y="103.8" font-size="22.5" textLength="33.6" lengthAdjust="spacingAndGlyphs">200</text><text class="rm" x="846.9" y="102.9" font-size="33.2" textLength="25.4" lengthAdjust="spacingAndGlyphs">=</text><text class="rm" x="881.3" y="99.0" font-size="33.2" textLength="56.0" lengthAdjust="spacingAndGlyphs">4.58</text><text class="rm" x="948.9" y="99.0" font-size="33.2">(</text><text class="rm" x="958.9" y="105.3" font-size="46">+</text><text class="rm" x="983.7" y="99.0" font-size="33.2">1</text><text class="it" x="999.9" y="99.0" font-size="33.2" textLength="19.0" lengthAdjust="spacingAndGlyphs">σ</text><text class="rm" x="1019.7" y="99.0" font-size="33.2" textLength="9.6" lengthAdjust="spacingAndGlyphs">)</text>
<text class="it" x="790.3" y="139.9" font-size="33.2" textLength="31.0" lengthAdjust="spacingAndGlyphs">M</text><text class="it" x="821.9" y="144.5" font-size="22.5" textLength="9.0" lengthAdjust="spacingAndGlyphs">b</text><text class="rm" x="839.5" y="143.8" font-size="33.2" textLength="25.4" lengthAdjust="spacingAndGlyphs">=</text><text class="rm" x="875.9" y="139.9" font-size="33.2" textLength="39.0" lengthAdjust="spacingAndGlyphs">1.3</text><text class="rm" x="923.5" y="145.3" font-size="42">×</text><text class="rm" x="955.9" y="139.9" font-size="33.2" textLength="30.6" lengthAdjust="spacingAndGlyphs">10</text><text class="rm" x="989.1" y="127.7" font-size="22.5" textLength="19.4" lengthAdjust="spacingAndGlyphs">11</text><text class="it" x="1023.3" y="139.9" font-size="33.2" textLength="31.0" lengthAdjust="spacingAndGlyphs">M</text><text class="sy" x="1053.7" y="147.4" font-size="22.5">⊙</text>
<text class="it" x="1450.7" y="61.6" font-size="33.2" textLength="31.0" lengthAdjust="spacingAndGlyphs">M</text><text class="rm" x="1481.9" y="66.4" font-size="22.5" textLength="33.6" lengthAdjust="spacingAndGlyphs">200</text><text class="rm" x="1525.1" y="65.5" font-size="33.2" textLength="25.4" lengthAdjust="spacingAndGlyphs">=</text><text class="rm" x="1559.3" y="61.6" font-size="33.2" textLength="15.6" lengthAdjust="spacingAndGlyphs">3</text><text class="rm" x="1583.9" y="67.0" font-size="42">×</text><text class="rm" x="1616.3" y="61.6" font-size="33.2" textLength="30.6" lengthAdjust="spacingAndGlyphs">10</text><text class="rm" x="1649.1" y="49.4" font-size="22.5" textLength="21.4" lengthAdjust="spacingAndGlyphs">13</text><text class="it" x="1683.7" y="61.6" font-size="33.2" textLength="31.0" lengthAdjust="spacingAndGlyphs">M</text><text class="sy" x="1714.1" y="69.1" font-size="22.5">⊙</text>
<text class="it" x="1450.1" y="99.0" font-size="33.2" textLength="13.6" lengthAdjust="spacingAndGlyphs">c</text><text class="rm" x="1464.1" y="103.8" font-size="22.5" textLength="33.6" lengthAdjust="spacingAndGlyphs">200</text><text class="rm" x="1507.3" y="102.9" font-size="33.2" textLength="25.4" lengthAdjust="spacingAndGlyphs">=</text><text class="rm" x="1541.7" y="99.0" font-size="33.2" textLength="56.0" lengthAdjust="spacingAndGlyphs">3.56</text><text class="rm" x="1609.3" y="99.0" font-size="33.2" textLength="118.6" lengthAdjust="spacingAndGlyphs">(median)</text>
<text class="it" x="1450.7" y="139.9" font-size="33.2" textLength="31.0" lengthAdjust="spacingAndGlyphs">M</text><text class="it" x="1482.3" y="144.5" font-size="22.5" textLength="9.0" lengthAdjust="spacingAndGlyphs">b</text><text class="rm" x="1499.9" y="143.8" font-size="33.2" textLength="25.4" lengthAdjust="spacingAndGlyphs">=</text><text class="rm" x="1536.3" y="139.9" font-size="33.2" textLength="54.0" lengthAdjust="spacingAndGlyphs">1.95</text><text class="rm" x="1598.5" y="145.3" font-size="42">×</text><text class="rm" x="1630.9" y="139.9" font-size="33.2" textLength="30.6" lengthAdjust="spacingAndGlyphs">10</text><text class="rm" x="1664.1" y="127.7" font-size="22.5" textLength="19.4" lengthAdjust="spacingAndGlyphs">11</text><text class="it" x="1698.3" y="139.9" font-size="33.2" textLength="31.0" lengthAdjust="spacingAndGlyphs">M</text><text class="sy" x="1728.7" y="147.4" font-size="22.5">⊙</text>
<text class="it" x="130.1" y="717.9" font-size="33.2" textLength="31.0" lengthAdjust="spacingAndGlyphs">M</text><text class="rm" x="161.3" y="722.7" font-size="22.5" textLength="33.6" lengthAdjust="spacingAndGlyphs">200</text><text class="rm" x="204.5" y="721.8" font-size="33.2" textLength="25.4" lengthAdjust="spacingAndGlyphs">=</text><text class="rm" x="238.7" y="717.9" font-size="33.2" textLength="15.6" lengthAdjust="spacingAndGlyphs">1</text><text class="rm" x="263.3" y="723.3" font-size="42">×</text><text class="rm" x="295.7" y="717.9" font-size="33.2" textLength="30.6" lengthAdjust="spacingAndGlyphs">10</text><text class="rm" x="328.5" y="705.7" font-size="22.5" textLength="21.4" lengthAdjust="spacingAndGlyphs">13</text><text class="it" x="363.1" y="717.9" font-size="33.2" textLength="31.0" lengthAdjust="spacingAndGlyphs">M</text><text class="sy" x="393.5" y="725.4" font-size="22.5">⊙</text>
<text class="it" x="129.5" y="755.3" font-size="33.2" textLength="13.6" lengthAdjust="spacingAndGlyphs">c</text><text class="rm" x="143.5" y="760.1" font-size="22.5" textLength="33.6" lengthAdjust="spacingAndGlyphs">200</text><text class="rm" x="186.7" y="759.2" font-size="33.2" textLength="25.4" lengthAdjust="spacingAndGlyphs">=</text><text class="rm" x="221.1" y="755.3" font-size="33.2" textLength="56.0" lengthAdjust="spacingAndGlyphs">3.76</text><text class="rm" x="288.7" y="755.3" font-size="33.2" textLength="118.6" lengthAdjust="spacingAndGlyphs">(median)</text>
<text class="it" x="130.1" y="796.2" font-size="33.2" textLength="31.0" lengthAdjust="spacingAndGlyphs">M</text><text class="it" x="161.7" y="800.8" font-size="22.5" textLength="9.0" lengthAdjust="spacingAndGlyphs">b</text><text class="rm" x="179.3" y="800.1" font-size="33.2" textLength="25.4" lengthAdjust="spacingAndGlyphs">=</text><text class="rm" x="215.7" y="796.2" font-size="33.2" textLength="39.0" lengthAdjust="spacingAndGlyphs">1.3</text><text class="rm" x="263.3" y="801.6" font-size="42">×</text><text class="rm" x="295.7" y="796.2" font-size="33.2" textLength="30.6" lengthAdjust="spacingAndGlyphs">10</text><text class="rm" x="328.9" y="784.0" font-size="22.5" textLength="19.4" lengthAdjust="spacingAndGlyphs">11</text><text class="it" x="363.1" y="796.2" font-size="33.2" textLength="31.0" lengthAdjust="spacingAndGlyphs">M</text><text class="sy" x="393.5" y="803.7" font-size="22.5">⊙</text>
<text class="it" x="790.3" y="717.9" font-size="33.2" textLength="31.0" lengthAdjust="spacingAndGlyphs">M</text><text class="rm" x="821.5" y="722.7" font-size="22.5" textLength="33.6" lengthAdjust="spacingAndGlyphs">200</text><text class="rm" x="864.7" y="721.8" font-size="33.2" textLength="25.4" lengthAdjust="spacingAndGlyphs">=</text><text class="rm" x="898.9" y="717.9" font-size="33.2" textLength="15.6" lengthAdjust="spacingAndGlyphs">1</text><text class="rm" x="923.5" y="723.3" font-size="42">×</text><text class="rm" x="955.9" y="717.9" font-size="33.2" textLength="30.6" lengthAdjust="spacingAndGlyphs">10</text><text class="rm" x="988.7" y="705.7" font-size="22.5" textLength="21.4" lengthAdjust="spacingAndGlyphs">13</text><text class="it" x="1023.3" y="717.9" font-size="33.2" textLength="31.0" lengthAdjust="spacingAndGlyphs">M</text><text class="sy" x="1053.7" y="725.4" font-size="22.5">⊙</text>
<text class="it" x="789.7" y="755.3" font-size="33.2" textLength="13.6" lengthAdjust="spacingAndGlyphs">c</text><text class="rm" x="803.7" y="760.1" font-size="22.5" textLength="33.6" lengthAdjust="spacingAndGlyphs">200</text><text class="rm" x="846.9" y="759.2" font-size="33.2" textLength="25.4" lengthAdjust="spacingAndGlyphs">=</text><text class="rm" x="881.3" y="755.3" font-size="33.2" textLength="56.0" lengthAdjust="spacingAndGlyphs">4.84</text><text class="rm" x="948.9" y="755.3" font-size="33.2">(</text><text class="rm" x="958.9" y="761.6" font-size="46">+</text><text class="rm" x="983.7" y="755.3" font-size="33.2">1</text><text class="it" x="999.9" y="755.3" font-size="33.2" textLength="19.0" lengthAdjust="spacingAndGlyphs">σ</text><text class="rm" x="1019.7" y="755.3" font-size="33.2" textLength="9.6" lengthAdjust="spacingAndGlyphs">)</text>
<text class="it" x="790.3" y="796.2" font-size="33.2" textLength="31.0" lengthAdjust="spacingAndGlyphs">M</text><text class="it" x="821.9" y="800.8" font-size="22.5" textLength="9.0" lengthAdjust="spacingAndGlyphs">b</text><text class="rm" x="839.5" y="800.1" font-size="33.2" textLength="25.4" lengthAdjust="spacingAndGlyphs">=</text><text class="rm" x="875.9" y="796.2" font-size="33.2" textLength="39.0" lengthAdjust="spacingAndGlyphs">1.3</text><text class="rm" x="923.5" y="801.6" font-size="42">×</text><text class="rm" x="955.9" y="796.2" font-size="33.2" textLength="30.6" lengthAdjust="spacingAndGlyphs">10</text><text class="rm" x="989.1" y="784.0" font-size="22.5" textLength="19.4" lengthAdjust="spacingAndGlyphs">11</text><text class="it" x="1023.3" y="796.2" font-size="33.2" textLength="31.0" lengthAdjust="spacingAndGlyphs">M</text><text class="sy" x="1053.7" y="803.7" font-size="22.5">⊙</text>
<text class="it" x="1450.7" y="717.9" font-size="33.2" textLength="31.0" lengthAdjust="spacingAndGlyphs">M</text><text class="rm" x="1481.9" y="722.7" font-size="22.5" textLength="33.6" lengthAdjust="spacingAndGlyphs">200</text><text class="rm" x="1525.1" y="721.8" font-size="33.2" textLength="25.4" lengthAdjust="spacingAndGlyphs">=</text><text class="rm" x="1559.3" y="717.9" font-size="33.2" textLength="15.6" lengthAdjust="spacingAndGlyphs">1</text><text class="rm" x="1583.9" y="723.3" font-size="42">×</text><text class="rm" x="1616.3" y="717.9" font-size="33.2" textLength="30.6" lengthAdjust="spacingAndGlyphs">10</text><text class="rm" x="1649.1" y="705.7" font-size="22.5" textLength="21.4" lengthAdjust="spacingAndGlyphs">13</text><text class="it" x="1683.7" y="717.9" font-size="33.2" textLength="31.0" lengthAdjust="spacingAndGlyphs">M</text><text class="sy" x="1714.1" y="725.4" font-size="22.5">⊙</text>
<text class="it" x="1450.1" y="755.3" font-size="33.2" textLength="13.6" lengthAdjust="spacingAndGlyphs">c</text><text class="rm" x="1464.1" y="760.1" font-size="22.5" textLength="33.6" lengthAdjust="spacingAndGlyphs">200</text><text class="rm" x="1507.3" y="759.2" font-size="33.2" textLength="25.4" lengthAdjust="spacingAndGlyphs">=</text><text class="rm" x="1541.7" y="755.3" font-size="33.2" textLength="56.0" lengthAdjust="spacingAndGlyphs">3.76</text><text class="rm" x="1609.3" y="755.3" font-size="33.2" textLength="118.6" lengthAdjust="spacingAndGlyphs">(median)</text>
<text class="it" x="1450.7" y="796.2" font-size="33.2" textLength="31.0" lengthAdjust="spacingAndGlyphs">M</text><text class="it" x="1482.3" y="800.8" font-size="22.5" textLength="9.0" lengthAdjust="spacingAndGlyphs">b</text><text class="rm" x="1499.9" y="800.1" font-size="33.2" textLength="25.4" lengthAdjust="spacingAndGlyphs">=</text><text class="rm" x="1536.3" y="796.2" font-size="33.2" textLength="54.0" lengthAdjust="spacingAndGlyphs">1.95</text><text class="rm" x="1598.5" y="801.6" font-size="42">×</text><text class="rm" x="1630.9" y="796.2" font-size="33.2" textLength="30.6" lengthAdjust="spacingAndGlyphs">10</text><text class="rm" x="1664.1" y="784.0" font-size="22.5" textLength="19.4" lengthAdjust="spacingAndGlyphs">11</text><text class="it" x="1698.3" y="796.2" font-size="33.2" textLength="31.0" lengthAdjust="spacingAndGlyphs">M</text><text class="sy" x="1728.7" y="803.7" font-size="22.5">⊙</text>
</g>
<rect x="1860" y="1143.8" width="196.8" height="157.8" rx="5" ry="5" fill="#fff" fill-opacity="0.8" stroke="#ccc" stroke-width="2"/>
<g fill="none" stroke-width="4.05">
<path d="M1870,1162.8 H1920.6" stroke="#000" stroke-dasharray="13.1 5"/>
<path d="M1868.5,1198 H1922.7" stroke="#000"/>
<path d="M1868.5,1236.4 H1922.7" stroke="#ff00ff"/>
<path d="M1868.5,1275.9 H1922.7" stroke="#ffa500"/>
</g>
<g fill="#000">
<text class="ss" x="1941.4" y="1171.7" font-size="24" textLength="53" lengthAdjust="spacingAndGlyphs">NFW</text>
<text class="ss" x="1942" y="1207.1" font-size="24" textLength="30" lengthAdjust="spacingAndGlyphs">AC</text>
<text class="rm" x="1940.8" y="1245.9" font-size="25" textLength="31" lengthAdjust="spacingAndGlyphs">0.1</text>
<text class="rm" x="1981.2" y="1245.9" font-size="25" textLength="31.4" lengthAdjust="spacingAndGlyphs">cm</text>
<text class="rm" x="2013.4" y="1234.3" font-size="15.5">2</text>
<text class="rm" x="2022" y="1245.9" font-size="25" textLength="25.4" lengthAdjust="spacingAndGlyphs">/g</text>
<text class="rm" x="1940.8" y="1285.1" font-size="25" textLength="31" lengthAdjust="spacingAndGlyphs">0.3</text>
<text class="rm" x="1981.2" y="1285.1" font-size="25" textLength="31.4" lengthAdjust="spacingAndGlyphs">cm</text>
<text class="rm" x="2013.4" y="1273.5" font-size="15.5">2</text>
<text class="rm" x="2022" y="1285.1" font-size="25" textLength="25.4" lengthAdjust="spacingAndGlyphs">/g</text>
</g>
</svg></body></html>
